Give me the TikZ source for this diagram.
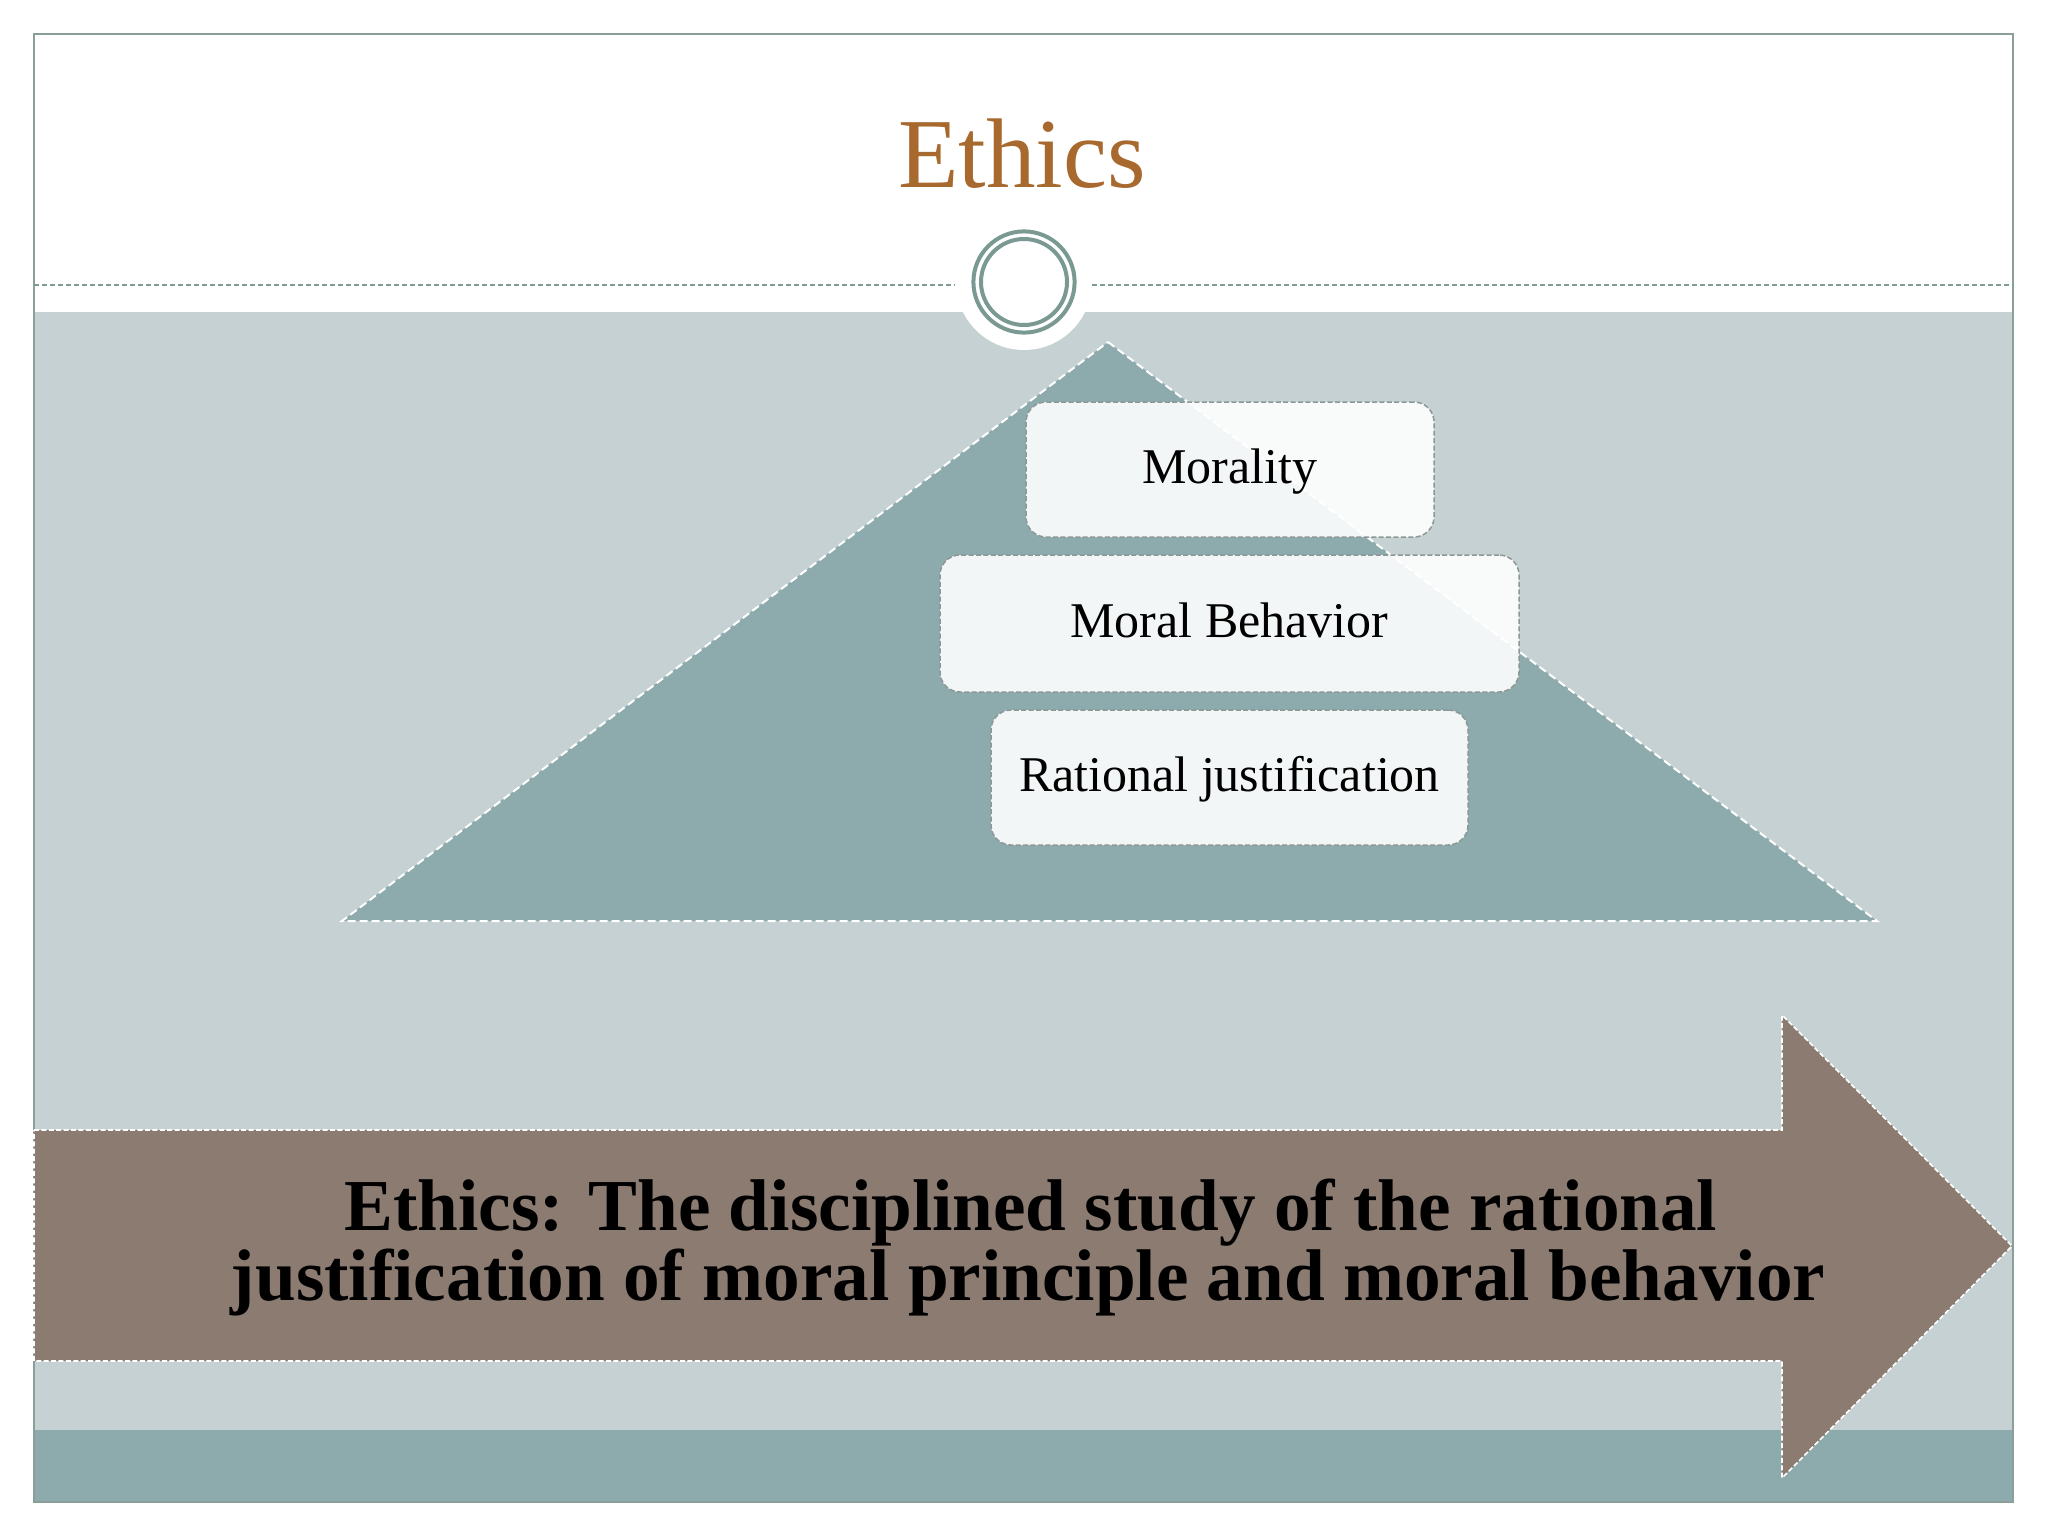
\documentclass[tikz,border=0pt]{standalone}
\usepackage{fontspec}
\setmainfont{Liberation Serif}
\definecolor{framec}{HTML}{8A9E9A}
\definecolor{bandc}{HTML}{C6D1D3}
\definecolor{tealc}{HTML}{8DABAD}
\definecolor{ringc}{HTML}{7A9992}
\definecolor{hdash}{HTML}{7F9A95}
\definecolor{arrowc}{HTML}{8B7B71}
\definecolor{titlec}{HTML}{A8692E}
\definecolor{boxline}{HTML}{8C9896}
\tikzset{
  levelbox/.style={draw=boxline, line width=0.75pt, dash pattern=on 2.5pt off 1.2pt,
    fill=white, fill opacity=0.9, text opacity=1, rounded corners=10pt,
    inner sep=0pt, text height=16.5pt, text depth=3pt,
    font=\fontsize{25pt}{30pt}\selectfont, text=black},
  whitedash/.style={draw=white, line width=1pt, dash pattern=on 4pt off 2pt},
  arrowtext/.style={anchor=base, inner sep=0pt, text=black,
    font=\fontsize{36.6pt}{44pt}\selectfont\bfseries}
}
\begin{document}
\begin{tikzpicture}[x=0.5pt,y=-0.5pt]
\useasboundingbox (0,0) rectangle (2048,1536);
\fill[white] (0,0) rectangle (2048,1536);
% bands
\fill[bandc] (34,312) rectangle (2013,1430);
\fill[tealc] (34,1430) rectangle (2013,1502);
\draw[framec, line width=1pt] (34,34) rectangle (2013,1502);
% header dashed line
\coordinate (hl1) at (34,285);
\coordinate (hl2) at (955,285);
\coordinate (hr1) at (1092,285);
\coordinate (hr2) at (2013,285);
\draw[hdash, line width=1pt, dash pattern=on 2.5pt off 1.5pt] (hl1) -- (hl2);
\draw[hdash, line width=1pt, dash pattern=on 2.5pt off 1.5pt] (hr1) -- (hr2);
% medallion
\coordinate (med) at (1024,282);
\fill[white] (med) circle[radius=34pt];
\draw[ringc, line width=2pt] (med) circle[radius=25.3pt];
\draw[ringc, line width=2pt] (med) circle[radius=21.5pt];
% title
\node[anchor=base, inner sep=0pt, text=titlec, font=\fontsize{49.5pt}{56pt}\selectfont] (title) at (1022,187) {Ethics};
% triangle
\coordinate (apex) at (1108,342);
\coordinate (bl) at (342,921);
\coordinate (br) at (1877,921);
\fill[tealc] (apex) -- (br) -- (bl) -- cycle;
\draw[whitedash] (apex) -- (br) -- (bl) -- cycle;
% boxes
\node[levelbox, minimum width=204pt, minimum height=67.5pt] (morality) at (1230,469.5) {Morality};
\node[levelbox, minimum width=289.5pt, minimum height=68.5pt] (behavior) at (1229.5,623.5) {Moral Behavior};
\node[levelbox, minimum width=238.5pt, minimum height=67.5pt] (rational) at (1229.5,777.5) {Rational justification};
% arrow
\coordinate (a1) at (34,1130);
\coordinate (a2) at (1782,1130);
\coordinate (a3) at (1782,1015);
\coordinate (a4) at (2012,1246);
\coordinate (a5) at (1782,1478);
\coordinate (a6) at (1782,1361);
\coordinate (a7) at (34,1361);
\fill[arrowc] (a1) -- (a2) -- (a3) -- (a4) -- (a5) -- (a6) -- (a7) -- cycle;
\draw[draw=white, line width=0.8pt, dash pattern=on 2.5pt off 1.2pt] (a1) -- (a2) -- (a3) -- (a4) -- (a5) -- (a6) -- (a7) -- cycle;
\node[arrowtext] (def1) at (1031,1230) {Ethics: The disciplined study of the rational};
\node[arrowtext] (def2) at (1028,1300) {justification of moral principle and moral behavior};
\end{tikzpicture}
\end{document}
